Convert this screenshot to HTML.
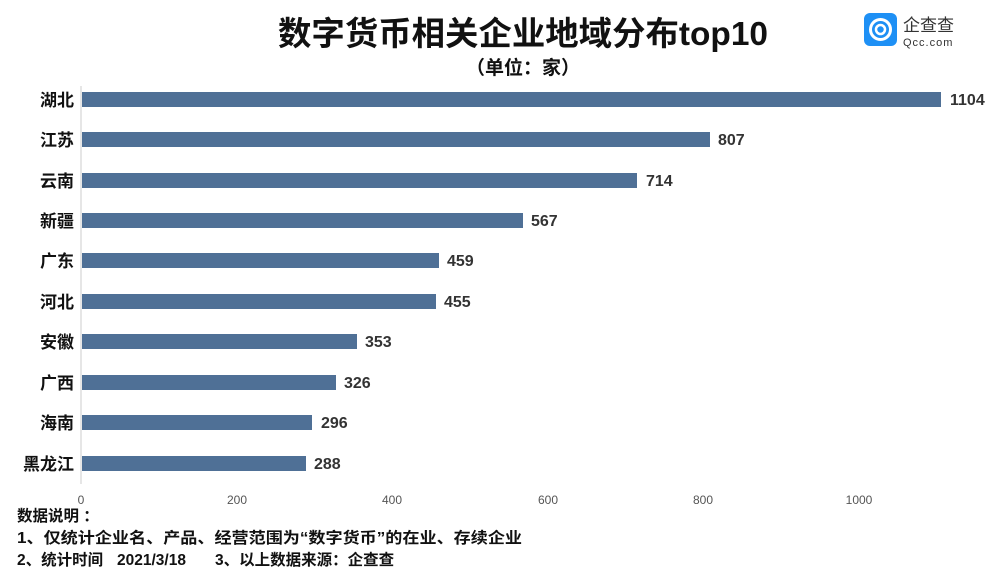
<!DOCTYPE html>
<html><head><meta charset="utf-8"><style>
body{margin:0;width:1000px;height:582px;background:#fff;overflow:hidden;font-family:"Liberation Sans","Noto Sans CJK SC",sans-serif;}
</style></head><body>
<svg width="1000" height="582" xmlns="http://www.w3.org/2000/svg" style="position:absolute;left:0;top:0">
<style>text{font-family:"Liberation Sans","Noto Sans CJK SC",sans-serif;}</style>
<text x="523" y="45" text-anchor="middle" font-size="33" font-weight="bold" fill="#111" textLength="490" lengthAdjust="spacingAndGlyphs">数字货币相关企业地域分布top10</text>
<text x="523" y="74" text-anchor="middle" font-size="19" font-weight="bold" fill="#111">（单位：家）</text>
<rect x="864" y="13" width="33" height="33" rx="6" fill="#1e90f5"/>
<circle cx="880.5" cy="29.5" r="10" fill="none" stroke="#fff" stroke-width="3"/>
<circle cx="880.5" cy="29.5" r="4.5" fill="none" stroke="#fff" stroke-width="2.5"/>
<text x="903" y="31" font-size="17" fill="#333">企查查</text>
<text x="903" y="46" font-size="11" fill="#333" letter-spacing="1">Qcc.com</text>
<rect x="80" y="86" width="2" height="398" fill="#e6e6e6"/>
<g fill="#4f7096">
<rect x="82" y="92" width="859" height="15"/>
<rect x="82" y="132" width="628" height="15"/>
<rect x="82" y="173" width="555" height="15"/>
<rect x="82" y="213" width="441" height="15"/>
<rect x="82" y="253" width="357" height="15"/>
<rect x="82" y="294" width="354" height="15"/>
<rect x="82" y="334" width="275" height="15"/>
<rect x="82" y="375" width="254" height="15"/>
<rect x="82" y="415" width="230" height="15"/>
<rect x="82" y="456" width="224" height="15"/>
</g>
<g font-size="17" font-weight="bold" fill="#111" text-anchor="end">
<text x="74" y="106">湖北</text><text x="74" y="146">江苏</text><text x="74" y="187">云南</text><text x="74" y="227">新疆</text><text x="74" y="267">广东</text><text x="74" y="308">河北</text><text x="74" y="348">安徽</text><text x="74" y="389">广西</text><text x="74" y="429">海南</text><text x="74" y="470">黑龙江</text>
</g>
<g font-size="16" font-weight="bold" fill="#333">
<text x="950" y="105">1104</text><text x="718" y="145">807</text><text x="646" y="186">714</text><text x="531" y="226">567</text><text x="447" y="266">459</text><text x="444" y="307">455</text><text x="365" y="347">353</text><text x="344" y="388">326</text><text x="321" y="428">296</text><text x="314" y="469">288</text>
</g>
<g font-size="12" fill="#555" text-anchor="middle">
<text x="81" y="504">0</text><text x="237" y="504">200</text><text x="392" y="504">400</text><text x="548" y="504">600</text><text x="703" y="504">800</text><text x="859" y="504">1000</text>
</g>
<g font-size="15.5" font-weight="bold" fill="#111">
<text x="17" y="521" xml:space="preserve">数据说明 ：</text>
<text x="17" y="543" textLength="505" lengthAdjust="spacingAndGlyphs">1、仅统计企业名、产品、经营范围为“数字货币”的在业、存续企业</text>
<text x="17" y="565">2、统计时间</text>
<text x="117" y="565">2021/3/18</text>
<text x="215" y="565">3、以上数据来源：企查查</text>
</g>
</svg>
</body></html>
